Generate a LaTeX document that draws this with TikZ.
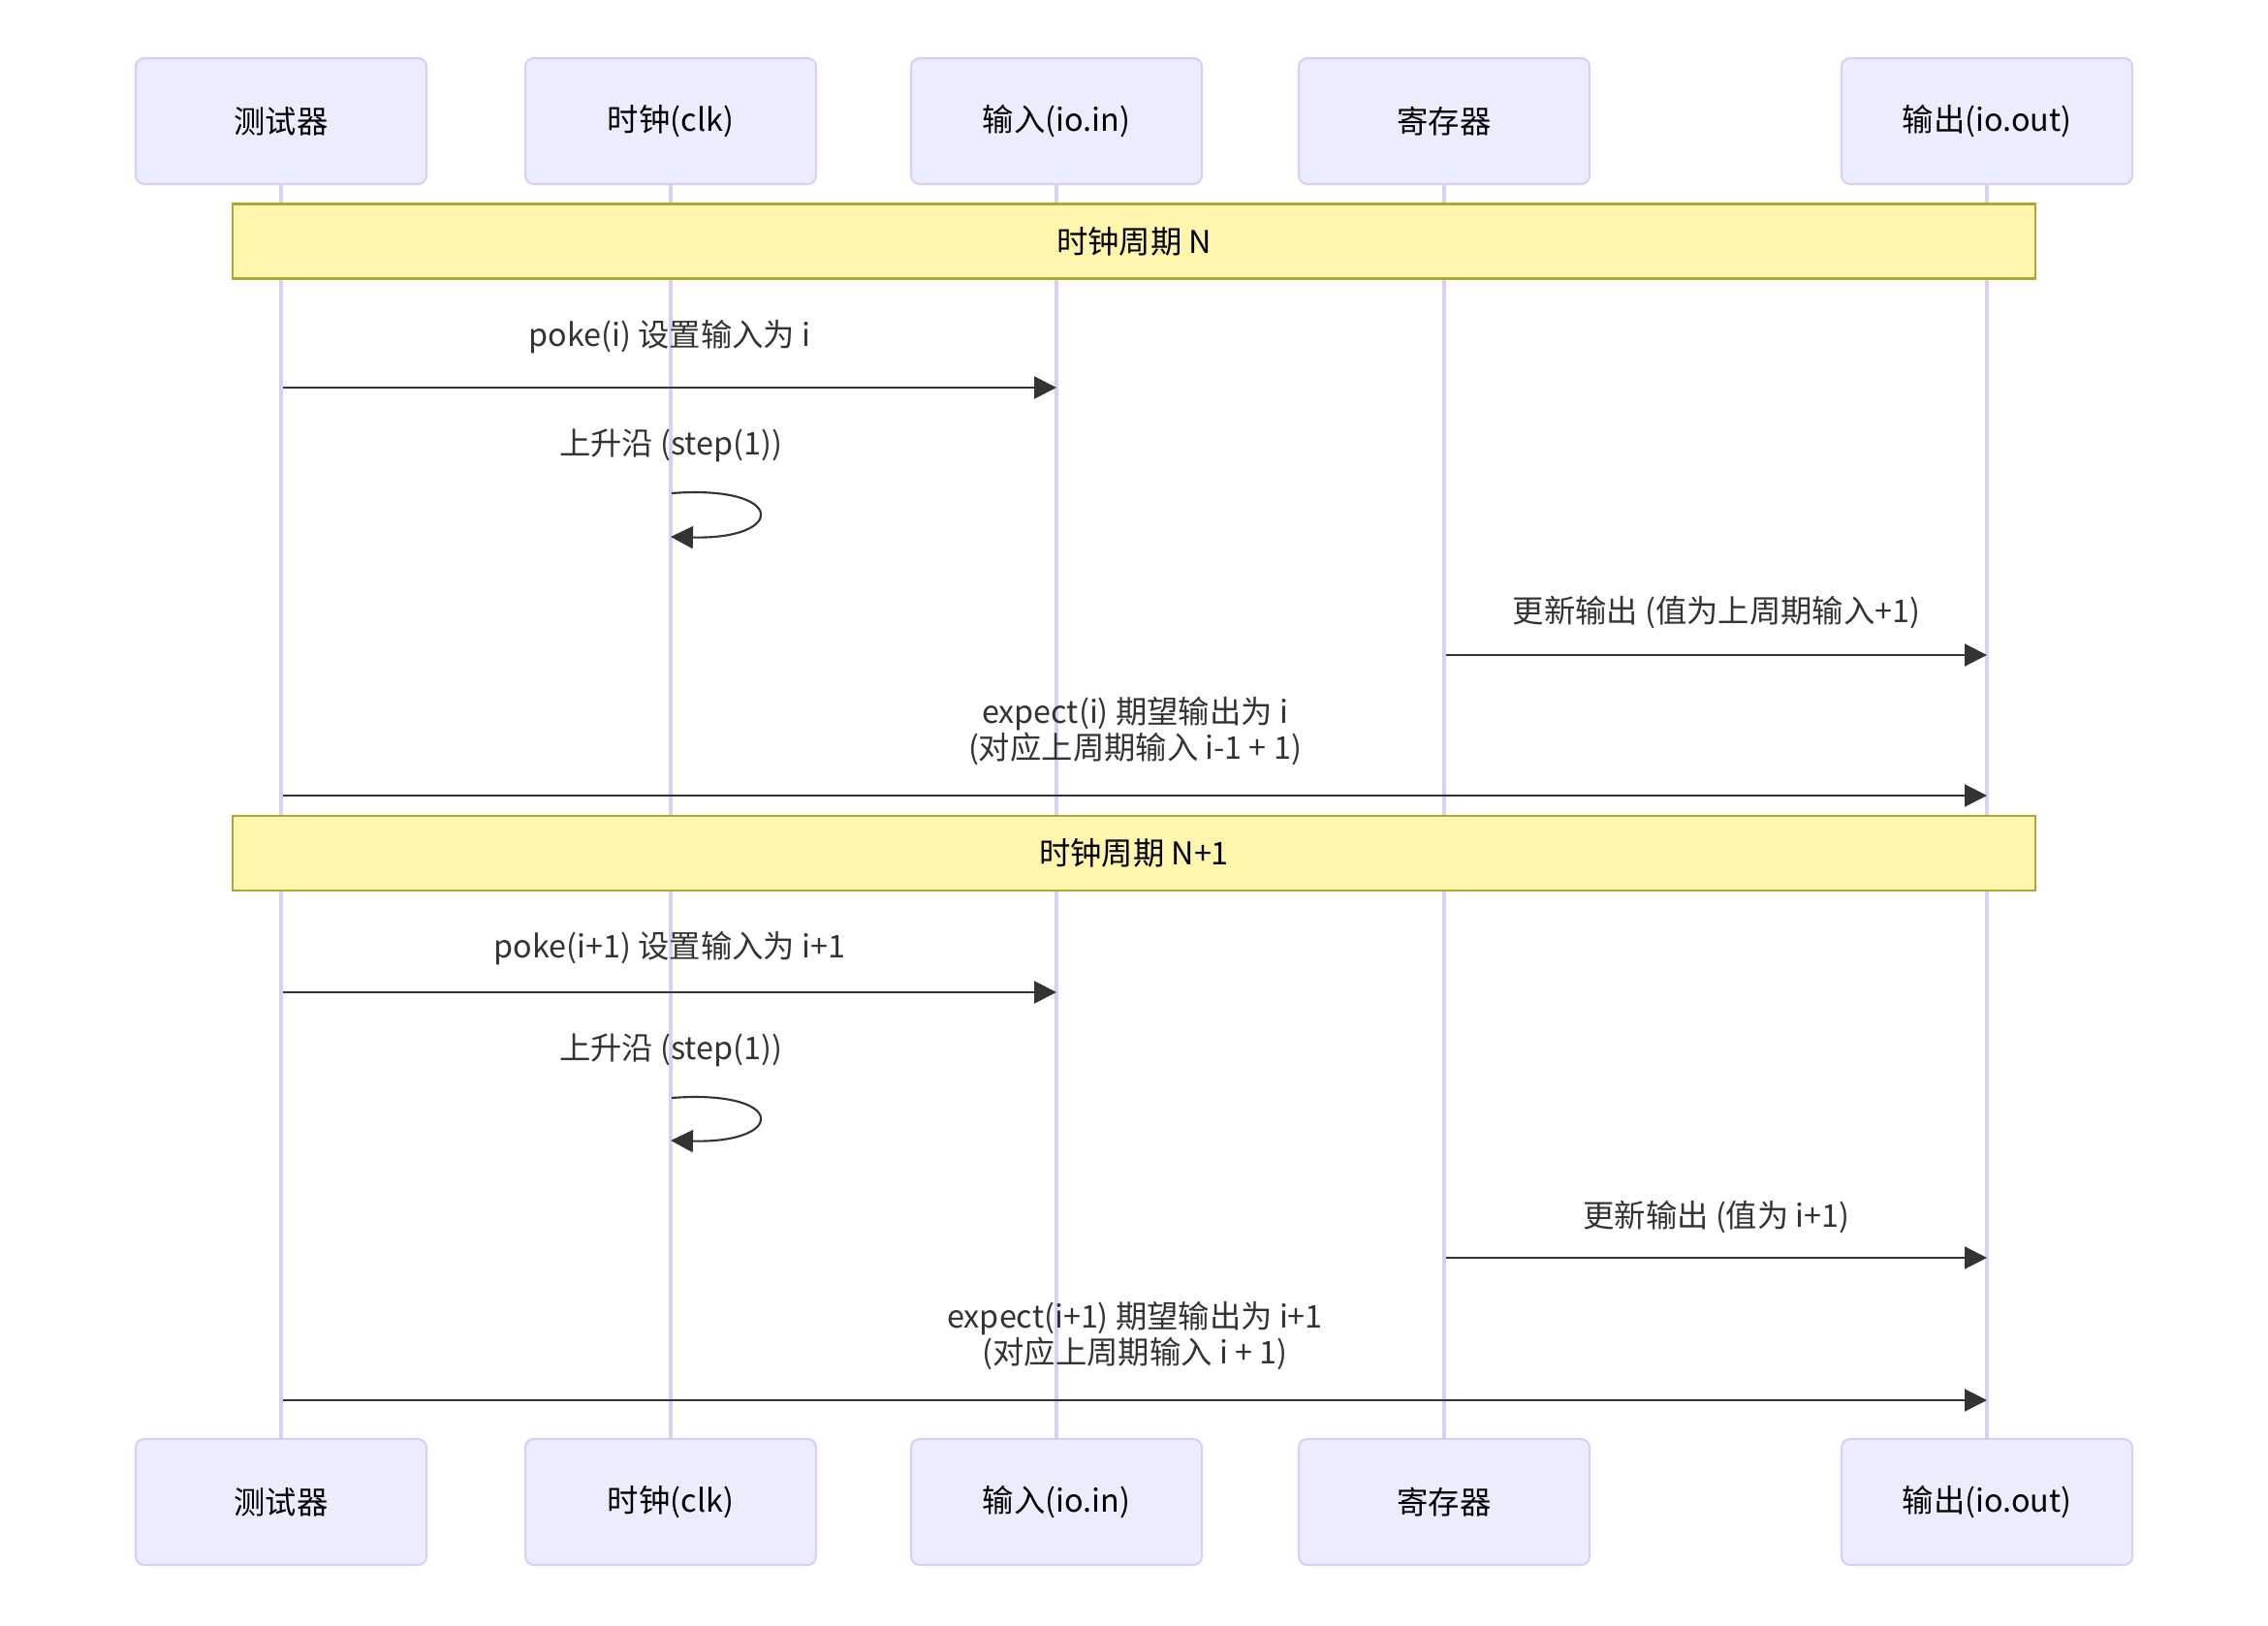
\documentclass[tikz,border=0pt]{standalone}
\usepackage{fontspec}
\setmainfont{Noto Sans CJK SC}
\usepackage{tikz}
\usetikzlibrary{positioning, arrows.meta, calc}
\definecolor{actfill}{HTML}{ECECFF}
\definecolor{actline}{HTML}{DACEF3}
\definecolor{notefill}{HTML}{FFF5AD}
\definecolor{noteline}{HTML}{AAAA33}
\definecolor{msgcol}{HTML}{333333}

\begin{document}
\begin{tikzpicture}[
  font=\fontsize{9.2}{10.6}\selectfont,
  actor/.style={draw=actline, fill=actfill, line width=0.6pt, rounded corners=2.5pt,
                minimum width=3cm, minimum height=1.3cm, inner sep=0pt},
  note/.style={draw=noteline, fill=notefill, line width=0.6pt,
               minimum width=18.6cm, minimum height=0.77cm, inner sep=0pt},
  life/.style={draw=actline, line width=0.9pt},
  msg/.style={draw=msgcol, line width=0.6pt, -{Triangle[length=0.23cm, width=0.23cm]}},
  lbl/.style={text=msgcol, align=center}
]
\useasboundingbox (0,0) rectangle (23.40,-16.78);

% participants at top and bottom, joined by their lifelines
\foreach \a/\x/\t in {tst/2.90/测试器, clk/6.92/时钟(clk), inp/10.90/输入(io.in),
                      reg/14.90/寄存器, out/20.50/输出(io.out)} {
  \node[actor] (\a) at (\x,-1.25) {\t};
  \node[actor] (\a2) at (\x,-15.50) {\t};
  \draw[life] (\a.south) -- (\a2.north);
}

% cycle N
\node[note] (cycA) at (11.70,-2.49) {时钟周期 N};

\coordinate (p1a) at (2.92,-4.00);
\coordinate (p1b) at (10.90,-4.00);
\draw[msg] (p1a) -- (p1b) node[lbl, midway, yshift=0.52cm] {poke(i) 设置输入为 i};

\coordinate (e1a) at (6.93,-5.09);
\coordinate (e1b) at (6.92,-5.54);
\draw[msg] (e1a) .. controls (8.12,-5.00) and (8.12,-5.57) .. (e1b);
\node[lbl] (e1t) at (6.92,-4.60) {上升沿 (step(1))};

\coordinate (u1a) at (14.92,-6.76);
\coordinate (u1b) at (20.50,-6.76);
\draw[msg] (u1a) -- (u1b) node[lbl, midway, yshift=0.44cm] {更新输出 (值为上周期输入+1)};

\coordinate (x1a) at (2.92,-8.21);
\coordinate (x1b) at (20.50,-8.21);
\draw[msg] (x1a) -- (x1b) node[lbl, midway, yshift=0.665cm]
  {expect(i) 期望输出为 i\\(对应上周期输入 i-1 + 1)};

% cycle N+1
\node[note] (cycB) at (11.70,-8.805) {时钟周期 N+1};

\coordinate (p2a) at (2.92,-10.24);
\coordinate (p2b) at (10.90,-10.24);
\draw[msg] (p2a) -- (p2b) node[lbl, midway, yshift=0.45cm] {poke(i+1) 设置输入为 i+1};

\coordinate (e2a) at (6.93,-11.33);
\coordinate (e2b) at (6.92,-11.77);
\draw[msg] (e2a) .. controls (8.12,-11.24) and (8.12,-11.80) .. (e2b);
\node[lbl] (e2t) at (6.92,-10.84) {上升沿 (step(1))};

\coordinate (u2a) at (14.92,-12.98);
\coordinate (u2b) at (20.50,-12.98);
\draw[msg] (u2a) -- (u2b) node[lbl, midway, yshift=0.42cm] {更新输出 (值为 i+1)};

\coordinate (x2a) at (2.92,-14.45);
\coordinate (x2b) at (20.50,-14.45);
\draw[msg] (x2a) -- (x2b) node[lbl, midway, yshift=0.665cm]
  {expect(i+1) 期望输出为 i+1\\(对应上周期输入 i + 1)};
\end{tikzpicture}
\end{document}
